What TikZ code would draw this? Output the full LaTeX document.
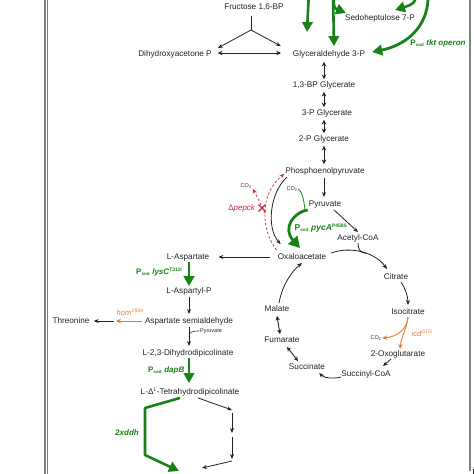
\documentclass[tikz,border=0pt]{standalone}
\usepackage{fontspec}
\setmainfont{Liberation Sans}
\usetikzlibrary{arrows.meta,calc}
\definecolor{grn}{RGB}{24,130,24}
\definecolor{org}{RGB}{228,124,48}
\definecolor{rd}{RGB}{196,40,56}
\definecolor{txt}{RGB}{34,34,34}
\definecolor{brd}{RGB}{128,128,128}
\newcommand{\Psod}{P\textsubscript{\fontsize{4.5}{5}\selectfont sod}}
\newcommand{\supsm}[1]{\textsuperscript{\fontsize{5}{5}\selectfont #1}}
\begin{document}
\begin{tikzpicture}[x=1pt,y=-1pt,
  met/.style={font=\fontsize{8.2}{9}\selectfont, text=txt, inner sep=1pt, text height=5.9pt, text depth=1.6pt},
  small/.style={font=\fontsize{5.5}{6}\selectfont, text=txt, inner sep=0.5pt},
  ln/.style={draw=txt, line width=0.8pt},
  blk/.style={draw=txt, line width=0.8pt, -{Stealth[length=5pt,width=4pt]}},
  dbl/.style={draw=txt, line width=0.9pt, {Stealth[length=4.5pt,width=4.5pt]}-{Stealth[length=4.5pt,width=4.5pt]}},
  garr/.style={draw=grn, line width=2.6pt, -{Triangle[length=10pt,width=10.5pt]}, line join=round},
  gthin/.style={draw=grn, line width=0.8pt},
  oarr/.style={draw=org, line width=0.9pt, -{Stealth[length=5pt,width=4.5pt]}},
  rarr/.style={draw=rd, line width=0.7pt, dash pattern=on 2.5pt off 2pt, -{Stealth[length=4.5pt,width=4pt]}},
  glab/.style={text=grn, font=\bfseries\fontsize{8}{9}\selectfont, inner sep=0.5pt},
  olab/.style={text=org, font=\itshape\fontsize{7.5}{8}\selectfont, inner sep=0.5pt},
  rlab/.style={text=rd, font=\fontsize{8}{9}\selectfont, inner sep=0.5pt},
  bord/.style={draw=brd, line width=1.2pt}
]
\useasboundingbox (0,0) rectangle (474,474);
\clip (0,0) rectangle (474,474);

% borders
\draw[bord] (45,-2) -- (45,476);
\draw[bord] (47.8,-2) -- (47.8,476);
\draw[bord] (470,-2) -- (470,471);
\draw[txt, line width=0.8pt] (473,469) -- (473,476);

% metabolites
\node[met] (fbp) at (254,7) {Fructose 1,6-BP};
\node[met] (dhap) at (175,54) {Dihydroxyacetone P};
\node[met] (gap) at (329,54) {Glyceraldehyde 3-P};
\node[met] (sed) at (380,18) {Sedoheptulose 7-P};
\node[met] (bpg) at (324,85) {1,3-BP Glycerate};
\node[met] (pg3) at (327,113) {3-P Glycerate};
\node[met] (pg2) at (324,139) {2-P Glycerate};
\node[met] (pep) at (325,171) {Phosphoenolpyruvate};
\node[met] (pyr) at (325,204) {Pyruvate};
\node[met] (accoa) at (358,238) {Acetyl-CoA};
\node[met] (oaa) at (302,257) {Oxaloacetate};
\node[met] (asp) at (188,257) {L-Aspartate};
\node[met] (aspp) at (189,291) {L-Aspartyl-P};
\node[met] (asa) at (189,321) {Aspartate semialdehyde};
\node[met] (thr) at (71,321) {Threonine};
\node[met] (dhdp) at (188,353) {L-2,3-Dihydrodipicolinate};
\node[met] (thdp) at (190,392) {L-Δ\supsm{1}-Tetrahydrodipicolinate};
\node[met] (cit) at (396,277) {Citrate};
\node[met] (icit) at (408,312) {Isocitrate};
\node[met] (akg) at (398,354) {2-Oxoglutarate};
\node[met] (succoa) at (366,374) {Succinyl-CoA};
\node[met] (succ) at (307,367) {Succinate};
\node[met] (fum) at (282,340) {Fumarate};
\node[met] (mal) at (277,309) {Malate};

% small side metabolites
\node[small] (co2c) at (292,189) {CO\textsubscript{2}};
\node[small] (co2p) at (246,186) {CO\textsubscript{2}};
\node[small] (co2i) at (376,338) {CO\textsubscript{2}};
\node[small] (pyrs) at (211,331) {Pyruvate};

% gene labels
\node[glab] (tkt) at (438,43) {\Psod{} \textit{tkt operon}};
\node[glab, anchor=east] (lysc) at (183,272) {\Psod{} \textit{lysC}\supsm{T311I}};
\node[glab, anchor=east] (dapb) at (185,370) {\Psod{} \textit{dapB}};
\node[glab] (ddh) at (127,433) {\textit{2xddh}};
\node[glab, anchor=west, font=\bfseries\fontsize{8.5}{9}\selectfont] (pyc) at (294,228) {\Psod{} \textit{pycA}\supsm{P458S}};
\node[olab, anchor=west] (hom) at (116,312) {hom\supsm{V59A}};
\node[olab, anchor=west] (icd) at (411,333) {icd\supsm{GTG}};
\node[rlab, anchor=east] (pck) at (256,208) {Δ\textit{pepck}};

% fructose split
\coordinate (j) at (251,30);
\draw[ln, shorten <=4pt] (fbp.south -| j) -- (j);
\draw[blk] (j) -- ($(dhap.north east)+(5,-1)$);
\draw[blk] (j) -- ($(gap.north west)+(-11,-3)$);
\draw[dbl] ($(dhap.east)+(5,-1)$) -- ($(gap.west)+(-11,-1)$);

% tkt arrows (green, from above)
\coordinate (tA) at (309,-8);
\coordinate (tB) at (333,-8);
\coordinate (tD) at (418,-8);
\coordinate (tE) at (428,-8);
\draw[garr] (tA) .. controls (308,10) .. (307,32);
\draw[garr] (tB) -- ($(gap.north)+(5,-3)$);
\draw[garr] (tB) .. controls (334,8) .. ($(sed.west)+(2,-5)$);
\draw[garr] (tD) .. controls (414,4) .. ($(sed.north)+(15,-3)$);
\draw[garr, line width=2.8pt] (tE) .. controls (430,30) and (402,46) .. ($(gap.east)+(6,-2)$);

% glycolysis chain
\draw[dbl, shorten <=3pt, shorten >=1pt] (bpg.north |- gap.south) -- (bpg.north);
\draw[dbl, shorten <=2pt, shorten >=1pt] (bpg.south) -- (bpg.south |- pg3.north);
\draw[dbl, shorten <=2pt, shorten >=1pt] (pg3.south -| pg2) -- (pg2.north);
\draw[dbl, shorten <=2pt, shorten >=2pt] (pg2.south) -- (pg2.south |- pep.north);
\draw[blk, shorten <=2pt, shorten >=2pt] (pep.south -| pg2) -- (pyr.north -| pg2);
\draw[blk] ($(pyr.south)+(9,1)$) -- ($(accoa.north)+(0,-1)$);

% anaplerosis
\draw[blk] ($(pep.south west)+(3,1)$) .. controls (270,192) and (266,228) .. ($(oaa.north west)+(4,-8)$);
\draw[garr, line width=2.8pt, -{Triangle[length=11pt,width=12pt]}] ($(pyr.south west)+(0,1)$) .. controls (294,212) and (282,228) .. ($(oaa.north)+(-2,-4)$);
\draw[gthin] (co2c.east) .. controls (301,190) and (304,198) .. (305,210.5);
\draw[rarr] ($(oaa.north west)+(0,-2)$) .. controls (262,232) and (258,195) .. ($(pep.west)+(0,3)$);
\coordinate (xb) at (265,213);
\coordinate (xm) at (262,208);
\draw[rarr] (xb) -- ($(co2p.south east)+(1,0)$);
\draw[rd, line width=1.3pt] ($(xm)+(-3.5,-3.5)$) -- ($(xm)+(3.5,3.5)$);
\draw[rd, line width=1.3pt] ($(xm)+(-3.5,3.5)$) -- ($(xm)+(3.5,-3.5)$);

% aspartate branch
\draw[blk, shorten <=7pt, shorten >=8pt] (oaa.west) -- (asp.east);
\draw[garr] (asp.south -| aspp) -- (aspp.north);
\draw[blk, shorten <=1pt, shorten >=2pt] (aspp.south) -- (asa.north);
\coordinate (homtip) at (116,321);
\draw[oarr, shorten <=2pt] (asa.west) -- (homtip);
\draw[blk, shorten <=2pt, shorten >=3pt] (homtip) -- (thr.east);
\draw[blk, shorten <=1pt, shorten >=2pt] (asa.south) -- (dhdp.north -| asa);
\draw[ln, line width=0.6pt] (pyrs.west) .. controls (192,331) and (189,332) .. (189,337);
\draw[garr, shorten >=4pt] (dhdp.south -| aspp) -- (thdp.north -| aspp);

% ddh and succinylase branches
\coordinate (dd1) at (145,408);
\coordinate (dd2) at (145,455);
\coordinate (dapl) at (179,471);
\draw[garr] ($(thdp.south)+(-10,1)$) -- (dd1) -- (dd2) -- (dapl);
\coordinate (r1) at (232,410);
\coordinate (r2) at (232,433);
\coordinate (r3) at (232,459);
\coordinate (dapr) at (202,468);
\draw[blk] ($(thdp.south)+(8,1)$) -- (r1);
\draw[blk] ($(r1)+(0,3)$) -- (r2);
\draw[blk] ($(r2)+(0,4)$) -- (r3);
\draw[blk] ($(r3)+(0,2)$) -- (dapr);

% TCA cycle
\draw[blk] ($(oaa.east)+(4,-4)$) .. controls (350,246) and (375,252) .. ($(cit.north)+(-9,-3)$);
\draw[ln] (accoa.south) .. controls (358,249) and (360,253) .. (366,253.3);
\draw[blk] ($(cit.south)+(5,0)$) .. controls (405,288) and (408,296) .. ($(icit.north)+(0,-2)$);
\draw[oarr] (icit.south) .. controls (407,330) and (396,337) .. (co2i.east);
\draw[oarr] (icit.south) .. controls (407,328) and (401,338) .. ($(akg.north)+(2,0)$);
\draw[blk] ($(akg.south)+(-7,0)$) -- ($(succoa.north)+(17,-3)$);
\draw[blk] ($(succoa.west)+(1,3)$) .. controls (333,379) and (324,378) .. ($(succ.south east)+(-7,1)$);
\draw[dbl] ($(fum.south)+(5,2)$) -- ($(succ.north)+(-9,-1)$);
\draw[dbl] ($(mal.south)+(0,2)$) -- ($(fum.north)+(-2,-1)$);
\draw[blk] ($(mal.north)+(2,-1)$) .. controls (282,286) and (291,272) .. ($(oaa.south)+(0,1)$);
\end{tikzpicture}
\end{document}
